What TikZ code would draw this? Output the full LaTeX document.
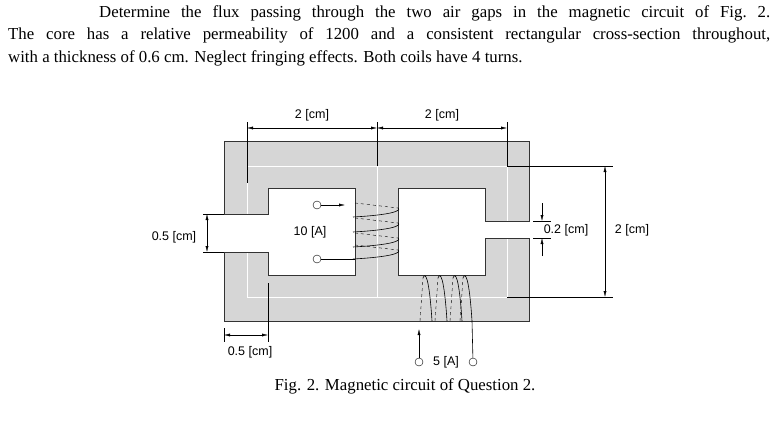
\documentclass[tikz,border=0pt]{standalone}
\usepackage{fontspec}
\setmainfont{Liberation Serif}
\newfontfamily\sansf{Liberation Sans}
\usetikzlibrary{arrows.meta}
\begin{document}
\begin{tikzpicture}[x=1pt,y=-1pt,
 dim/.style={thin,{Latex[length=6pt,width=3pt]}-{Latex[length=6pt,width=3pt]}},
 tip/.style={thin,-{Latex[length=6pt,width=3pt]}},
 lab/.style={font=\sansf\fontsize{12.5}{14}\selectfont,inner sep=1pt},
 term/.style={circle,draw,thin,inner sep=0pt,minimum size=8pt},
 wire/.style={semithick,black}]
\useasboundingbox (0,0) rectangle (775,420);
\node[anchor=north west,text width=762pt,align=justify,inner sep=0pt] (txt) at (8,5)
 {\fontsize{16.8}{22.5}\selectfont\hspace*{91pt}Determine the flux passing through the two air gaps in the magnetic circuit of Fig.~2.\linebreak The core has a relative permeability of 1200 and a consistent rectangular cross-section throughout,\linebreak with a thickness of 0.6 cm. Neglect fringing effects. Both coils have 4 turns.\par};
% core
\fill[gray!32] (224,141) -- (529,141) -- (529,221) -- (485,221) -- (485,188) -- (398,188) -- (398,275) -- (485,275) -- (485,238) -- (529,238) -- (529,321) -- (224,321) -- (224,252) -- (268,252) -- (268,275) -- (355,275) -- (355,188) -- (268,188) -- (268,214) -- (224,214) -- cycle;
\draw[white,thin] (247,166) rectangle (507,297) (377,166) -- (377,297);
\draw[thick,black!80] (224,141) -- (529,141) -- (529,221) -- (485,221) -- (485,188) -- (398,188) -- (398,275) -- (485,275) -- (485,238) -- (529,238) -- (529,321) -- (224,321) -- (224,252) -- (268,252) -- (268,275) -- (355,275) -- (355,188) -- (268,188) -- (268,214) -- (224,214) -- cycle;
% top dims
\draw[thin] (247,122) -- (247,183) (377,122) -- (377,166) (507,122) -- (507,166);
\coordinate (t1) at (247,128); \coordinate (t2) at (377,128); \coordinate (t3) at (507,128);
\draw[dim] (t1) -- (t2); \draw[dim] (t2) -- (t3);
\node[lab] (d1) at (312,115) {2 [cm]};
\node[lab] (d2) at (442,115) {2 [cm]};
% left 0.5
\draw[thin] (203,214) -- (224,214) (203,252) -- (224,252);
\coordinate (l1) at (207,214); \coordinate (l2) at (207,252);
\draw[dim] (l1) -- (l2);
\node[lab] (d3) at (174,237) {0.5 [cm]};
% bottom 0.5
\draw[thin] (224,328) -- (224,342) (268,283) -- (268,342);
\coordinate (b1) at (224,335); \coordinate (b2) at (268,335);
\draw[dim] (b1) -- (b2);
\node[lab] (d4) at (250,352) {0.5 [cm]};
% right dims
\draw[thin] (507,166) -- (613,166) (507,297) -- (613,297);
\draw[thin] (533,221) -- (551,221) (533,238) -- (551,238);
\coordinate (r1) at (542,203); \coordinate (r2) at (542,221);
\coordinate (r3) at (542,256); \coordinate (r4) at (542,238);
\draw[tip] (r1) -- (r2); \draw[tip] (r3) -- (r4);
\node[lab,fill=white,inner sep=0.5pt] (d5) at (566,230) {0.2 [cm]};
\coordinate (v1) at (605,166); \coordinate (v2) at (605,297);
\draw[dim] (v1) -- (v2);
\node[lab] (d6) at (632,230) {2 [cm]};
% left coil
\node[term] (c1) at (317,205) {};
\node[term] (c2) at (317,259) {};
\coordinate (c1a) at (345,205);
\draw[tip] (c1) -- (c1a);
\node[lab] (i1) at (310,232) {10 [A]};
\foreach \y in {208,223,238,250}{
 \draw[thin,dashed] (355,\y-5) -- (398,\y);
 \draw[wire] (398,\y) .. controls (402,\y+3) and (390,\y+7) .. (353,\y+9);
}
\draw[wire] (c2) -- (355,259);
% bottom coil
\foreach \x in {425,440,455,465}{
 \draw[thin,dashed] (\x-5,321) -- (\x-2,278);
 \draw[wire] (\x-2,278) .. controls (\x,272) and (\x+4,275) .. (\x+7,321);
}
\node[term] (c3) at (419,362) {};
\node[term] (c4) at (473,362) {};
\coordinate (c3a) at (419,329);
\draw[tip] (c3) -- (c3a);
\draw[wire] (c4) -- (472,321);
\node[lab] (i2) at (446,362) {5 [A]};
\node[font=\fontsize{16.8}{20}\selectfont] (cap) at (405,386) {Fig. 2. Magnetic circuit of Question 2.};
\end{tikzpicture}
\end{document}
